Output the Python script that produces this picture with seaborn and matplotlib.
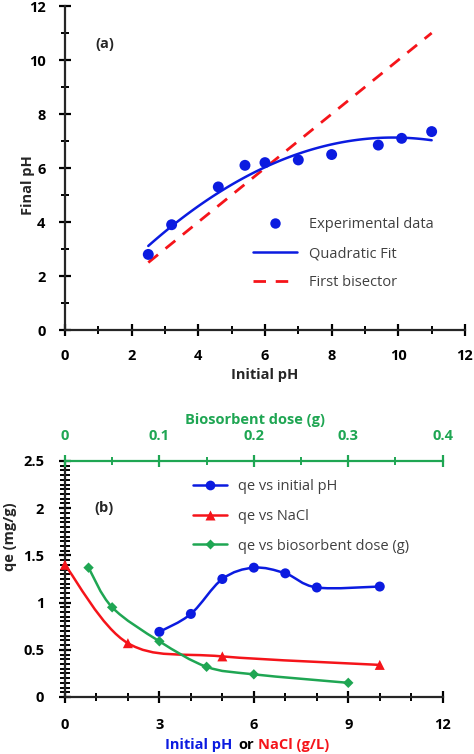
import numpy as np
import pandas as pd
import matplotlib
matplotlib.use("Agg")
import matplotlib.pyplot as plt
import seaborn as sns
from matplotlib.path import Path
from matplotlib.patches import PathPatch
from matplotlib.lines import Line2D
from matplotlib.ticker import MultipleLocator, FuncFormatter

# panel (a): initial vs final pH
initial_ph = [2.5, 3.2, 4.6, 5.4, 6.0, 7.0, 8.0, 9.4, 10.1, 11.0]
final_ph = [2.8, 3.9, 5.3, 6.1, 6.2, 6.3, 6.5, 6.85, 7.1, 7.35]
bisector_x = [2.5, 11.0]

# panel (b): adsorption capacity
ph_values = [3, 4, 5, 6, 7, 8, 10]
qe_ph = [0.69, 0.88, 1.25, 1.37, 1.31, 1.16, 1.17]
nacl_values = [0, 2, 5, 10]
qe_nacl = [1.40, 0.57, 0.43, 0.34]
dose_values = [0.025, 0.05, 0.10, 0.15, 0.20, 0.30]
qe_dose = [1.37, 0.95, 0.59, 0.32, 0.24, 0.15]

BLUE = "#0b1be0"
RED = "#f5141a"
GREEN = "#1fa653"
TEXT = "#404040"
FS = 10.5

sns.set_theme(style="ticks")
plt.rcParams["font.family"] = ["Open Sans", "DejaVu Sans"]
plt.rcParams["axes.linewidth"] = 1.6


def style_ticks(ax, axis="both", color="black", pad=10):
    ax.tick_params(axis=axis, which="major", direction="inout", length=8,
                   width=1.6, colors=color, labelsize=FS, pad=pad)
    ax.tick_params(axis=axis, which="minor", direction="inout", length=6,
                   width=1.4, colors=color)
    labels = []
    if axis in ("both", "x"):
        labels += ax.get_xticklabels()
    if axis in ("both", "y"):
        labels += ax.get_yticklabels()
    for lab in labels:
        lab.set_fontweight("bold")


def smooth_path(xs, ys):
    # Excel style smoothed line: cubic bezier through every point
    pts = np.column_stack([xs, ys]).astype(float)
    n = len(pts)
    verts = [pts[0]]
    codes = [Path.MOVETO]
    for i in range(n - 1):
        p0 = pts[i - 1] if i > 0 else pts[i]
        p1 = pts[i]
        p2 = pts[i + 1]
        p3 = pts[i + 2] if i + 2 < n else pts[i + 1]
        c1 = p1 + (p2 - p0) / 6.0
        c2 = p2 - (p3 - p1) / 6.0
        verts += [c1, c2, p2]
        codes += [Path.CURVE4] * 3
    return Path(verts, codes)


fig = plt.figure(figsize=(4.74, 7.54), dpi=100)

# ---------------- panel (a) ----------------
ax1 = fig.add_axes([0.137, 0.5623, 0.844, 0.4297])
df_a = pd.DataFrame({"initial": initial_ph, "final": final_ph})
coef = np.polyfit(initial_ph, final_ph, 2)
fit_x = np.linspace(min(initial_ph), max(initial_ph), 100)
df_fit = pd.DataFrame({"x": fit_x, "y": np.polyval(coef, fit_x)})
df_bis = pd.DataFrame({"x": bisector_x, "y": bisector_x})

sns.lineplot(data=df_bis, x="x", y="y", ax=ax1, color=RED, lw=2.0, zorder=2)
ax1.lines[-1].set_dashes([4.5, 3.5])
sns.lineplot(data=df_fit, x="x", y="y", ax=ax1, color=BLUE, lw=1.8, zorder=3)
sns.scatterplot(data=df_a, x="initial", y="final", ax=ax1, color=BLUE,
                s=62, edgecolor="none", zorder=4)

ax1.set_xlim(0, 12)
ax1.set_ylim(0, 12)
ax1.xaxis.set_major_locator(MultipleLocator(2))
ax1.xaxis.set_minor_locator(MultipleLocator(1))
ax1.yaxis.set_major_locator(MultipleLocator(2))
ax1.yaxis.set_minor_locator(MultipleLocator(1))
sns.despine(ax=ax1)
style_ticks(ax1, pad=10)
ax1.set_xlabel("Initial pH", fontsize=FS, fontweight="bold")
ax1.set_ylabel("Final pH", fontsize=FS, fontweight="bold")
ax1.xaxis.set_label_coords(0.5, -0.139)
ax1.xaxis.label.set_va("center")
ax1.yaxis.set_label_coords(-0.0925, 0.447)
ax1.yaxis.label.set_va("center")
ax1.text(0.9, 10.6, "(a)", fontsize=FS, fontweight="bold", va="center")

handles_a = [
    Line2D([], [], ls="none", marker="o", ms=7.5, color=BLUE, mec="none"),
    Line2D([], [], color=BLUE, lw=1.8),
    Line2D([], [], color=RED, lw=2.0, dashes=[4.5, 3.5]),
]
ax1.legend(handles_a, ["Experimental data", "Quadratic Fit", "First bisector"],
           loc="upper left", bbox_to_anchor=(0.4525, 0.37), frameon=False,
           borderpad=0, fontsize=FS, handlelength=3.0, handletextpad=0.8,
           labelspacing=0.95, labelcolor=TEXT)

# ---------------- panel (b) ----------------
ax2 = fig.add_axes([0.137, 0.0756, 0.797, 0.313])
ax2.set_xlim(0, 12)
ax2.set_ylim(0, 2.5)

ax2.add_patch(PathPatch(smooth_path(ph_values, qe_ph), fill=False,
                        ec=BLUE, lw=1.8, zorder=3))
ax2.add_patch(PathPatch(smooth_path(nacl_values, qe_nacl), fill=False,
                        ec=RED, lw=1.8, zorder=3))
sns.scatterplot(x=ph_values, y=qe_ph, ax=ax2, color=BLUE, marker="o",
                s=52, edgecolor="none", zorder=4)
sns.scatterplot(x=nacl_values, y=qe_nacl, ax=ax2, color=RED, marker="^",
                s=52, edgecolor="none", zorder=4, clip_on=False)

ax3 = ax2.twiny()
ax3.set_xlim(0, 0.4)
ax3.add_patch(PathPatch(smooth_path(dose_values, qe_dose), fill=False,
                        ec=GREEN, lw=1.8, zorder=3))
sns.scatterplot(x=dose_values, y=qe_dose, ax=ax3, color=GREEN, marker="D",
                s=28, edgecolor="none", zorder=4)
ax3.set_ylim(0, 2.5)

ax2.xaxis.set_major_locator(MultipleLocator(3))
ax2.xaxis.set_minor_locator(MultipleLocator(1))
ax2.yaxis.set_major_locator(MultipleLocator(0.5))
ax2.yaxis.set_minor_locator(MultipleLocator(0.05))
ax2.yaxis.set_major_formatter(FuncFormatter(lambda v, p: f"{v:g}"))
ax3.xaxis.set_major_locator(MultipleLocator(0.1))
ax3.xaxis.set_minor_locator(MultipleLocator(0.05))
ax3.xaxis.set_major_formatter(FuncFormatter(lambda v, p: f"{v:g}"))

for a in (ax2, ax3):
    a.spines["right"].set_visible(False)
ax2.spines["top"].set_visible(False)
ax3.spines["left"].set_visible(False)
ax3.spines["bottom"].set_visible(False)
ax3.spines["top"].set_color(GREEN)
ax3.spines["top"].set_linewidth(1.6)
style_ticks(ax2, pad=11)
style_ticks(ax3, axis="x", color=GREEN, pad=9)
ax2.tick_params(axis="y", which="minor", length=7)
ax3.tick_params(axis="x", which="both", labelcolor=GREEN)

ax3.set_xlabel("Biosorbent dose (g)", fontsize=FS, fontweight="bold", color=GREEN)
ax3.xaxis.set_label_coords(0.503, 1.174)
ax3.xaxis.label.set_va("center")
ax2.set_ylabel("qe (mg/g)", fontsize=FS, fontweight="bold")
ax2.yaxis.set_label_coords(-0.145, 0.678)
ax2.yaxis.label.set_va("center")
ax2.set_xlabel("")
fig.text(0.489, 0.012, "Initial pH", fontsize=FS, fontweight="bold",
         color=BLUE, ha="right", va="center")
fig.text(0.519, 0.012, "or", fontsize=FS, fontweight="bold",
         color="black", ha="center", va="center")
fig.text(0.544, 0.012, "NaCl (g/L)", fontsize=FS, fontweight="bold",
         color=RED, ha="left", va="center")
ax2.text(0.92, 2.0, "(b)", fontsize=FS, fontweight="bold", va="center")

handles_b = [
    Line2D([], [], color=BLUE, lw=1.8, marker="o", ms=7, mec="none"),
    Line2D([], [], color=RED, lw=1.8, marker="^", ms=7, mec="none"),
    Line2D([], [], color=GREEN, lw=1.8, marker="D", ms=5, mec="none"),
]
ax3.legend(handles_b, ["qe vs initial pH", "qe vs NaCl", "qe vs biosorbent dose (g)"],
           loc="upper left", bbox_to_anchor=(0.32, 0.953), frameon=False,
           borderpad=0, fontsize=FS, handlelength=2.33, handletextpad=0.75,
           labelspacing=1.0, labelcolor=TEXT)

fig.savefig("out.png", dpi=100)
